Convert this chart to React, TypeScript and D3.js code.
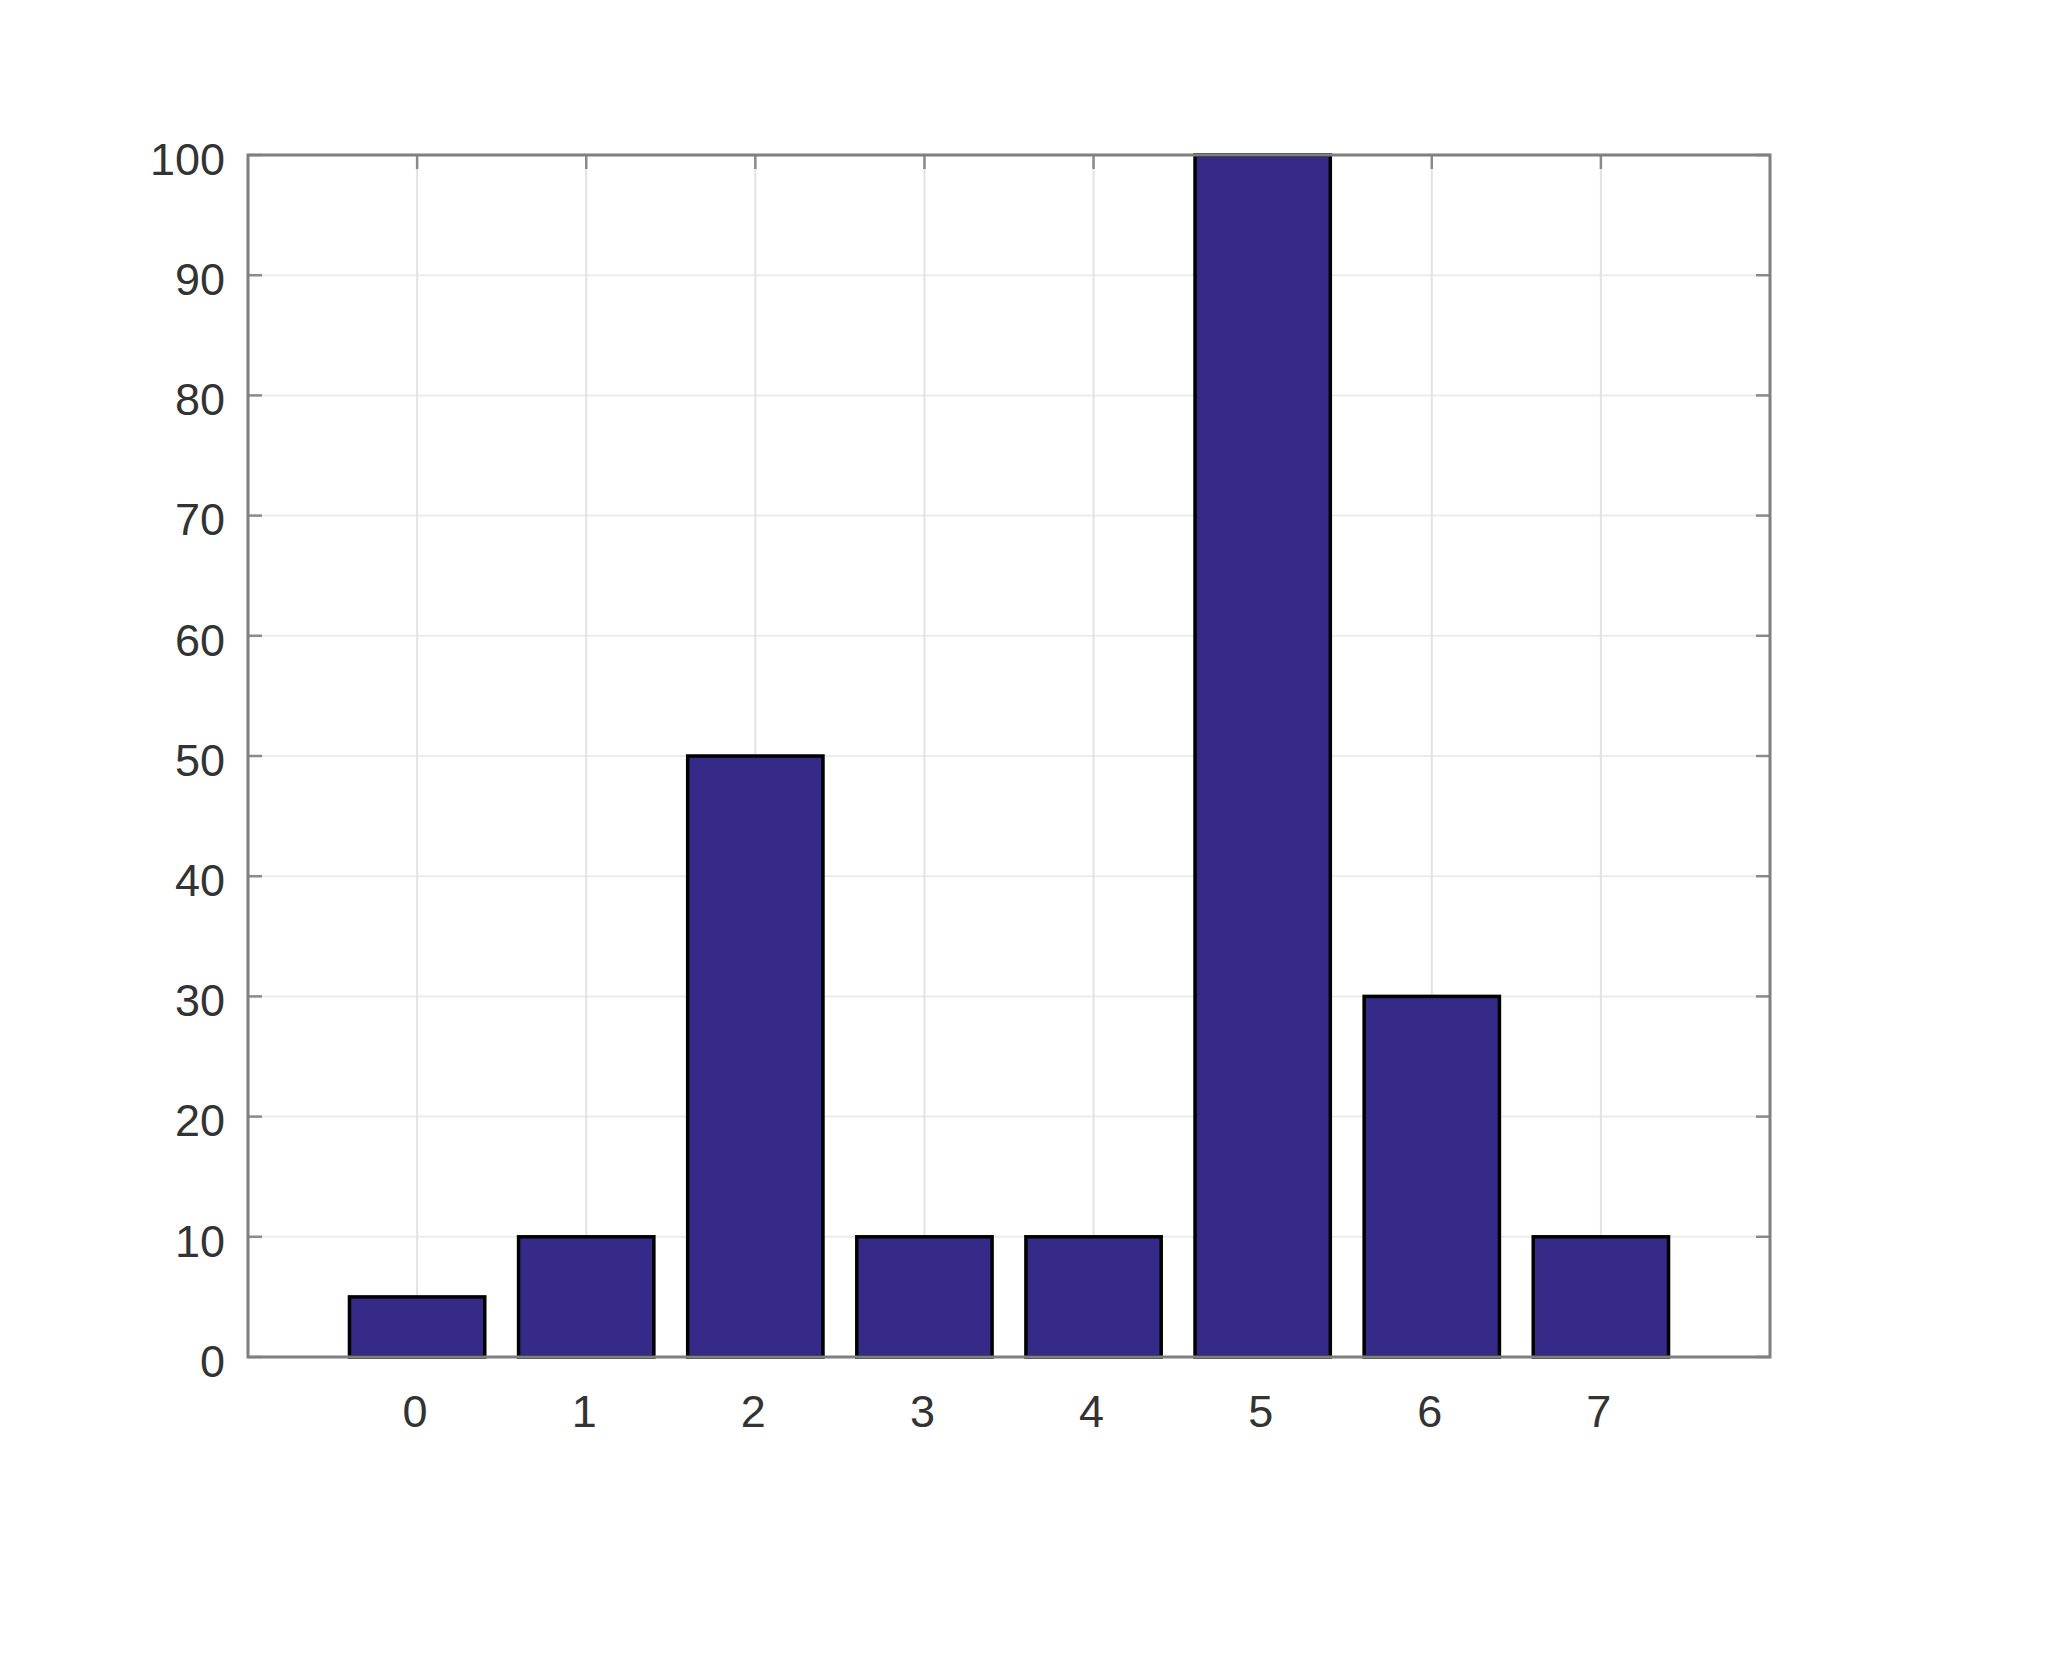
import React, { useEffect, useRef } from 'react';
import * as d3 from 'd3';

// values
const categories = [0, 1, 2, 3, 4, 5, 6, 7];
const counts = [5, 10, 50, 10, 10, 100, 30, 10];
const yTicks = [0, 10, 20, 30, 40, 50, 60, 70, 80, 90, 100];

const width = 2046;
const height = 1679;

export default function App() {
  const svgRef = useRef<SVGSVGElement>(null);

  useEffect(() => {
    if (!svgRef.current) return;
    const svg = d3.select(svgRef.current);
    svg.selectAll('*').remove();

    const margin = { top: 155, right: 276, bottom: 322, left: 248 };
    const innerWidth = width - margin.left - margin.right;
    const innerHeight = height - margin.top - margin.bottom;

    const g = svg.append('g').attr('transform', `translate(${margin.left},${margin.top})`);

    const x = d3.scaleLinear().domain([-1, 8]).range([0, innerWidth]);
    const y = d3.scaleLinear().domain([0, 100]).range([innerHeight, 0]);
    const barWidth = (x(1) - x(0)) * 0.8;

    // grid
    g.append('g')
      .selectAll('line')
      .data(yTicks)
      .enter()
      .append('line')
      .attr('x1', 0)
      .attr('x2', innerWidth)
      .attr('y1', d => y(d))
      .attr('y2', d => y(d))
      .attr('stroke', '#ebebeb')
      .attr('stroke-width', 2);

    g.append('g')
      .selectAll('line')
      .data(categories)
      .enter()
      .append('line')
      .attr('x1', d => x(d))
      .attr('x2', d => x(d))
      .attr('y1', 0)
      .attr('y2', innerHeight)
      .attr('stroke', '#e2e2e2')
      .attr('stroke-width', 2);

    // ticks (inward, all four sides)
    const tickLen = 14;
    const ticks = g.append('g').attr('stroke', '#8a8a8a').attr('stroke-width', 2.5);
    yTicks.forEach(t => {
      ticks.append('line').attr('x1', 0).attr('x2', tickLen).attr('y1', y(t)).attr('y2', y(t));
      ticks.append('line').attr('x1', innerWidth).attr('x2', innerWidth - tickLen).attr('y1', y(t)).attr('y2', y(t));
    });
    categories.forEach(c => {
      ticks.append('line').attr('x1', x(c)).attr('x2', x(c)).attr('y1', 0).attr('y2', tickLen);
      ticks.append('line').attr('x1', x(c)).attr('x2', x(c)).attr('y1', innerHeight).attr('y2', innerHeight - tickLen);
    });

    // bars
    g.append('g')
      .selectAll('rect')
      .data(categories)
      .enter()
      .append('rect')
      .attr('x', d => x(d) - barWidth / 2)
      .attr('width', barWidth)
      .attr('y', (d, i) => y(counts[i]))
      .attr('height', (d, i) => innerHeight - y(counts[i]))
      .attr('fill', '#352a87')
      .attr('stroke', '#000')
      .attr('stroke-width', 3.5);

    // axes box
    g.append('rect')
      .attr('x', 0)
      .attr('y', 0)
      .attr('width', innerWidth)
      .attr('height', innerHeight)
      .attr('fill', 'none')
      .attr('stroke', '#7f7f7f')
      .attr('stroke-width', 3);

    // tick labels
    g.append('g')
      .selectAll('text')
      .data(yTicks)
      .enter()
      .append('text')
      .attr('x', -23)
      .attr('y', d => y(d) + 4)
      .attr('dy', '0.35em')
      .attr('text-anchor', 'end')
      .style('font-family', '"Liberation Sans", Arial, sans-serif')
      .style('font-size', '45px')
      .style('fill', '#333')
      .text(d => d);

    g.append('g')
      .selectAll('text')
      .data(categories)
      .enter()
      .append('text')
      .attr('x', d => x(d) - 2)
      .attr('y', innerHeight + 70)
      .attr('text-anchor', 'middle')
      .style('font-family', '"Liberation Sans", Arial, sans-serif')
      .style('font-size', '45px')
      .style('fill', '#333')
      .text(d => d);
  }, []);

  return (
    <svg
      ref={svgRef}
      width={width}
      height={height}
      style={{ position: 'absolute', left: 0, top: 0, background: '#fff' }}
    />
  );
}
